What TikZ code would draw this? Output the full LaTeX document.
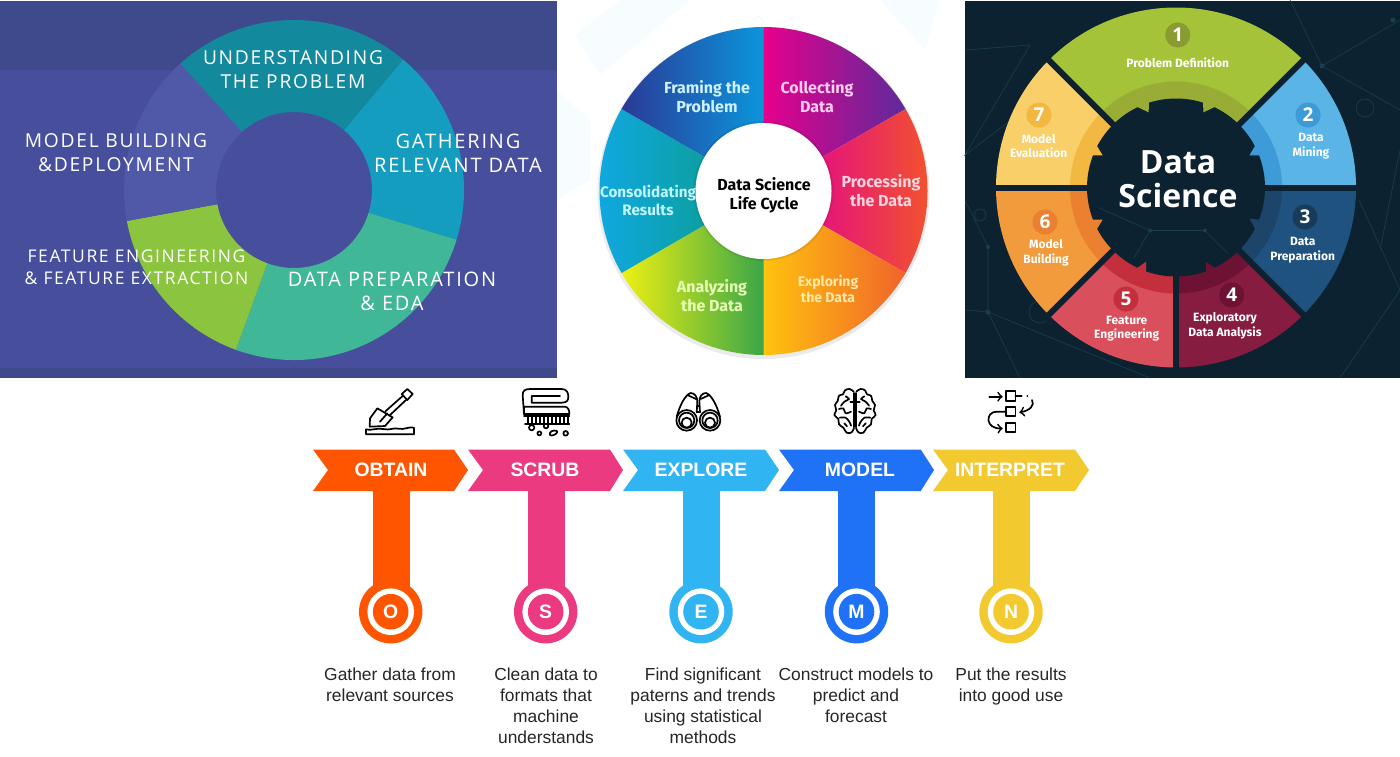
\documentclass[tikz,border=0pt]{standalone}
\usepackage{fontspec}
\setmainfont{Liberation Sans}
\newfontfamily\ringfont[LetterSpace=9]{Open Sans}
\newfontfamily\wheelfont{Fira Sans}
\newfontfamily\gearfont{Open Sans}
\tikzset{
  ringlabel/.style={inner sep=0pt,align=center,text=white,font=\ringfont\fontsize{9.6}{12}\selectfont},
  wheellabel/.style={inner sep=0pt,align=center,font=\wheelfont\bfseries\fontsize{8}{9.5}\selectfont},
  gearlabel/.style={inner sep=0pt,align=center,text=white,font=\wheelfont\fontsize{6}{7.3}\selectfont\bfseries},
  badgelabel/.style={circle,minimum size=12.6pt,inner sep=0pt,text=white,font=\gearfont\bfseries\fontsize{9.5}{10}\selectfont},
  chevlabel/.style={inner sep=0pt,text=white,font=\bfseries\fontsize{9.7}{10}\selectfont},
  stoplabel/.style={inner sep=0pt,font=\bfseries\fontsize{9.7}{10}\selectfont},
  stepnote/.style={inner sep=0pt,align=center,anchor=north,text=black!85,font=\fontsize{8.7}{10.5}\selectfont},
  zoomgrid/.style={x=0.16667pt,y=-0.16667pt,line width=0.85pt,black,line join=round,line cap=round}
}
\begin{document}
\begin{tikzpicture}[x=0.5pt,y=-0.5pt]
  \definecolor{ringback}{HTML}{474F9C}
  \definecolor{ringband}{HTML}{3F4A8D}
  \definecolor{ringone}{HTML}{13899E}
  \definecolor{ringtwo}{HTML}{149DBE}
  \definecolor{ringthree}{HTML}{40B897}
  \definecolor{ringfour}{HTML}{8BC53F}
  \definecolor{ringfive}{HTML}{5059A8}
  \definecolor{gearback}{HTML}{0D2231}
  \definecolor{gearnet}{HTML}{1A3F4C}
  \definecolor{segone}{HTML}{A4C339}
  \definecolor{bandone}{HTML}{98AC36}
  \definecolor{segtwo}{HTML}{5AB4E6}
  \definecolor{bandtwo}{HTML}{3F9BD8}
  \definecolor{segthree}{HTML}{20527F}
  \definecolor{bandthree}{HTML}{1C4569}
  \definecolor{segfour}{HTML}{861C3F}
  \definecolor{bandfour}{HTML}{6E1233}
  \definecolor{segfive}{HTML}{D94F5C}
  \definecolor{bandfive}{HTML}{C32F3C}
  \definecolor{segsix}{HTML}{F19B3C}
  \definecolor{bandsix}{HTML}{EB8030}
  \definecolor{segseven}{HTML}{F8CF69}
  \definecolor{bandseven}{HTML}{F3B842}
  \definecolor{obtaincolor}{HTML}{FF5500}
  \definecolor{scrubcolor}{HTML}{EB3A80}
  \definecolor{explorecolor}{HTML}{31B5F2}
  \definecolor{modelcolor}{HTML}{1F72F5}
  \definecolor{interpretcolor}{HTML}{F2C92F}
  \useasboundingbox (0,0) rectangle (1400,756);
  \fill [white] (0,0) rectangle (1400,756);

  % left panel
  \fill [ringback] (0,1) rectangle (557,378);
  \fill [ringband] (0,1) rectangle (557,70);
  \fill [ringband] (0,368) rectangle (557,378);
  \begin{scope}[shift={(294,190)},yscale=-1]
    \foreach \aa/\bb/\cc in {132/50/ringone,50/-17/ringtwo,-17/-110/ringthree,-110/-169.5/ringfour,190.5/132/ringfive}
      \fill [\cc] (\aa:170) arc (\aa:\bb:170) -- (\bb:78) arc (\bb:\aa:78) -- cycle;
  \end{scope}
  \node [ringlabel] (understanding) at (293,70) {UNDERSTANDING\\THE PROBLEM};
  \node [ringlabel] (modelbuilding) at (116,153) {MODEL BUILDING\\\&DEPLOYMENT};
  \node [ringlabel,font=\ringfont\fontsize{10}{12}\selectfont] (gathering) at (458,153) {GATHERING\\RELEVANT DATA};
  \node [ringlabel,font=\ringfont\fontsize{8.75}{11}\selectfont] (featureeng) at (136.5,267) {FEATURE ENGINEERING\\\& FEATURE EXTRACTION};
  \node [ringlabel,font=\ringfont\fontsize{10}{12}\selectfont] (datapreparation) at (392,291) {DATA PREPARATION\\\& EDA};

  % middle panel
  \fill [cyan!3] (575,35) -- (620,0) -- (690,0) -- (600,75) -- cycle;
  \fill [cyan!3] (880,0) -- (940,0) -- (925,50) -- cycle;
  \fill [cyan!3] (557,90) -- (590,120) -- (590,180) -- (557,200) -- cycle;
  \begin{scope}[shift={(763.5,191)},yscale=-1]
    \fill [black!8,shift={(0,-2)}] (0,0) circle (166);
    \foreach \aa/\bb/\lc/\rc in {
      90/30/E6008C/5E2A9A,
      30/-30/E5127E/F2552A,
      -30/-90/FFC20E/F0642A,
      -90/-150/EEF012/3AA648,
      210/150/10A8E4/0C9F9F,
      150/90/2A3A96/0B96DC} {
      \definecolor{lc}{HTML}{\lc}
      \definecolor{rc}{HTML}{\rc}
      \shade [left color=lc,right color=rc] (\aa:164) arc (\aa:\bb:164) -- (\bb:60) arc (\bb:\aa:60) -- cycle;
    }
    \fill [black,opacity=0.08] (0,0) circle (70);
    \fill [white] (0,0) circle (68);
  \end{scope}
  \definecolor{frametext}{HTML}{CFF0FF}
  \definecolor{collecttext}{HTML}{FFCDEE}
  \definecolor{processtext}{HTML}{FFD5E0}
  \definecolor{exploretext}{HTML}{FFE9A8}
  \definecolor{analyzetext}{HTML}{E8FFB8}
  \definecolor{consoltext}{HTML}{C0F6FF}
  \node [wheellabel,text=frametext] (framing) at (707,97) {Framing the\\Problem};
  \node [wheellabel,text=collecttext] (collecting) at (817,97) {Collecting\\Data};
  \node [wheellabel,text=processtext] (processing) at (881,190.5) {Processing\\the Data};
  \node [wheellabel,text=exploretext,font=\wheelfont\bfseries\fontsize{7}{8}\selectfont] (exploring) at (828,289) {Exploring\\the Data};
  \node [wheellabel,text=analyzetext] (analyzing) at (712,296) {Analyzing\\the Data};
  \node [wheellabel,text=consoltext,font=\wheelfont\bfseries\fontsize{7.6}{9}\selectfont] (consolidating) at (648,200.5) {Consolidating\\Results};
  \node [wheellabel,text=black,font=\wheelfont\bfseries\fontsize{8}{9.5}\selectfont] (lifecycle) at (764,195) {Data Science\\Life Cycle};

  % right panel
  \fill [gearback] (965,1) rectangle (1400,378);
  \begin{scope}[gearnet,line width=0.3pt]
    \draw (1290,0) -- (1322,66) -- (1400,20);
    \draw (1322,66) -- (1400,110);
    \draw (965,50) -- (1030,45) -- (965,155) -- (1090,60);
    \draw (965,310) -- (988,312) -- (1020,378);
    \draw (988,247) -- (965,200);
    \draw (988,247) -- (988,312) -- (1150,378);
    \draw (1359,200) -- (1400,290) -- (1340,378);
    \draw (1380,250) -- (1400,150);
    \fill (1322,66) circle (2.5) (988,312) circle (2.5) (988,247) circle (2) (1393,20) circle (2.5);
    \draw (1365,108) circle (9) (980,215) circle (6) (1040,312) circle (11);
  \end{scope}
  \begin{scope}[shift={(1176,187.5)},yscale=-1]
    \foreach \aa/\bb/\ss/\cc in {135/45/segone/bandone,45/0/segtwo/bandtwo,0/-45/segthree/bandthree,-45/-90/segfour/bandfour,270/225/segfive/bandfive,225/180/segsix/bandsix,180/135/segseven/bandseven} {
      \fill [\ss] (0,0) -- (\aa:180) arc (\aa:\bb:180) -- cycle;
      \fill [\cc] (0,0) -- (\aa:106) arc (\aa:\bb:106) -- cycle;
    }
    \foreach \aa in {0,45,135,180,225,270,315}
      \draw [gearback,line width=3pt] (0,0) -- (\aa:186);
    \fill [gearback] (0,0) circle (89);
    % spikes that bite into the hub
    \foreach \na/\tip/\fa/\cc in {72.5/70/64/bandone,107.5/110/116/bandone,21/23.6/28/bandtwo,-21/-23/-28/bandthree,-70.5/-68/-64/bandfour,250.5/248/244/bandfive,201/203.6/208/bandsix,159/156.4/152/bandseven}
      \fill [\cc] (\na:90) -- (\tip:80) -- (\fa:90) -- cycle;
    \begin{scope}[gearnet,line width=0.3pt]
      \draw (-26,-43) -- (29,-43) -- (52,-66);
      \draw (-78,-20) -- (-26,-43) -- (-42,-70);
      \fill (-26,-43) circle (2) (29,-43) circle (2);
    \end{scope}
  \end{scope}
  \node [inner sep=0pt,align=center,text=white,font=\gearfont\bfseries\fontsize{16}{17}\selectfont] (sciencehub) at (1178,179.5) {Data\\Science};
  \node [badgelabel,fill=bandone!90!black] (badgeone) at (1177.7,35) {1};
  \node [badgelabel,fill=bandtwo] (badgetwo) at (1308,115) {2};
  \node [badgelabel,fill=bandthree!85!black] (badgethree) at (1305,217) {3};
  \node [badgelabel,fill=bandfour] (badgefour) at (1231.7,295) {4};
  \node [badgelabel,fill=bandfive] (badgefive) at (1126,299) {5};
  \node [badgelabel,fill=bandsix] (badgesix) at (1045,222) {6};
  \node [badgelabel,fill=bandseven] (badgeseven) at (1039,115) {7};
  \node [gearlabel] (problemdef) at (1177.7,63) {Problem Definition};
  \node [gearlabel] (datamining) at (1311,146) {Data\\Mining};
  \node [gearlabel] (dataprep) at (1302.7,250) {Data\\Preparation};
  \node [gearlabel] (exploratory) at (1225,325.5) {Exploratory\\Data Analysis};
  \node [gearlabel] (featureengineering) at (1126.7,328.5) {Feature\\Engineering};
  \node [gearlabel] (modelbuild) at (1046,253) {Model\\Building};
  \node [gearlabel] (modeleval) at (1038.7,146) {Model\\Evaluation};

  % bottom chevrons
  \foreach \xl/\xn/\xs/\xt/\xm/\xc/\cc/\nm/\st/\tx/\lt in {
    313/328/454/468/391/390.7/obtaincolor/obtain/O/OBTAIN/391,
    468/483/610/623/546/545.7/scrubcolor/scrub/S/SCRUB/545,
    623/638/765/779/701.5/701/explorecolor/explore/E/EXPLORE/701,
    779/794/920.7/934/856.5/856.5/modelcolor/model/M/MODEL/860,
    933/948/1075/1089/1011.5/1011/interpretcolor/interpret/N/INTERPRET/1010} {
    \fill [\cc] (\xl,449.5) -- (\xs,449.5) -- (\xt,470) -- (\xs,491) -- (\xl,491) -- (\xn,470) -- cycle;
    \fill [\cc] (\xm-18.5,490) rectangle (\xm+18.5,595);
    \fill [\cc] (\xc,611.7) circle (31.7);
    \fill [white] (\xc,611.7) circle (23.3);
    \fill [\cc] (\xc,611.7) circle (17.8);
    \node [chevlabel] (\nm) at (\lt,470) {\tx};
    \node [stoplabel,text=white] (\nm stop) at (\xc,611.7) {\st};
  }
  \node [stepnote] (obtainnote) at (390,667) {Gather data from\\relevant sources};
  \node [stepnote] (scrubnote) at (546,667) {Clean data to\\formats that\\machine\\understands};
  \node [stepnote] (explorenote) at (703,667) {Find significant\\paterns and trends\\using statistical\\methods};
  \node [stepnote] (modelnote) at (856,667) {Construct models to\\predict and\\forecast};
  \node [stepnote] (interpretnote) at (1011,667) {Put the results\\into good use};

  % shovel and brush
  \begin{scope}[shift={(300,380)},zoomgrid]
    \draw (198,148) -- (198,163) -- (342,163) -- (342,143) .. controls (320,140) and (315,150) .. (295,146) .. controls (280,142) and (270,152) .. (250,147) .. controls (230,143) and (220,152) .. (198,148);
    \draw (232,85) -- (210,115) -- (209,140) -- (255,138) -- (278,112) -- cycle;
    \draw (240,125) -- (262,100);
    \draw (256,94) -- (308,48) (268,107) -- (320,58);
    \draw (305,42) -- (322,27) -- (338,42) -- (322,60) -- cycle;
    \draw (672,102) -- (668,45) .. controls (668,32) and (675,27) .. (690,27) -- (785,27) .. controls (800,27) and (805,38) .. (805,50) .. controls (805,62) and (800,68) .. (785,68) -- (695,68) -- (695,48) -- (780,48);
    \draw (695,80) -- (795,80) .. controls (805,82) and (808,90) .. (808,102) -- (672,102) -- (672,80) -- (695,80);
    \foreach \xb in {684,696,...,804}
      \draw (\xb,108) -- (\xb,130);
    \draw (672,108) -- (808,108) (675,132) -- (808,132);
    \draw (695,143) circle (8) (718,160) circle (6) (797,160) circle (7) (738,138) circle (7);
    \draw (750,158) .. controls (755,150) and (770,150) .. (772,155) .. controls (772,162) and (755,170) .. (750,165) -- cycle;
  \end{scope}

  % binoculars
  \begin{scope}[shift={(660,385)},zoomgrid]
    \foreach \xb in {80,150} {
      \draw (\xb,106) circle (31) (\xb,106) circle (23);
      \draw (\xb,113) circle (15);
    }
    \draw (50,95) .. controls (60,60) and (75,30) .. (92,24) .. controls (104,24) and (112,35) .. (112,50) -- (110,82);
    \draw (180,95) .. controls (170,60) and (155,30) .. (138,24) .. controls (126,24) and (118,35) .. (118,50) -- (120,82);
    \draw (82,30) -- (108,42) (148,30) -- (122,42);
    \draw (112,62) -- (118,62) (110,82) -- (120,82);
  \end{scope}

  % brain
  \begin{scope}[shift={(825,385)},zoomgrid]
    \foreach \sx in {1,-1} {
      \begin{scope}[xshift=15pt,xscale=\sx]
        \draw plot [smooth,tension=0.7] coordinates {(-4,20) (-16,12) (-30,16) (-36,28) (-48,32) (-52,48) (-60,60) (-56,76) (-62,90) (-50,102) (-48,118) (-35,128) (-25,143) (-10,142) (-3,128)};
        \draw plot [smooth] coordinates {(-28,34) (-18,42) (-32,50) (-42,62)};
        \draw plot [smooth] coordinates {(-48,72) (-35,70) (-28,85) (-12,80)};
        \draw plot [smooth] coordinates {(-46,98) (-28,98) (-16,112) (-12,122)};
        \draw plot [smooth] coordinates {(-32,115) (-24,124)};
        \draw (-3,24) -- (-3,125) (-3,50) -- (-14,50);
      \end{scope}
    }
  \end{scope}

  % flow chart
  \begin{scope}[shift={(700,380)},zoomgrid]
    \draw (918,33) rectangle (946,62) (918,80) rectangle (946,108) (918,128) rectangle (946,157);
    \draw [->] (868,50) -- (908,50);
    \draw (946,48) -- (965,48);
    \fill (982,48) circle (3);
    \draw [->] (996,60) .. controls (1005,75) and (990,92) .. (958,97);
    \draw [->] (918,95) -- (890,95) .. controls (855,95) and (855,148) .. (908,145);
  \end{scope}
\end{tikzpicture}
\end{document}
